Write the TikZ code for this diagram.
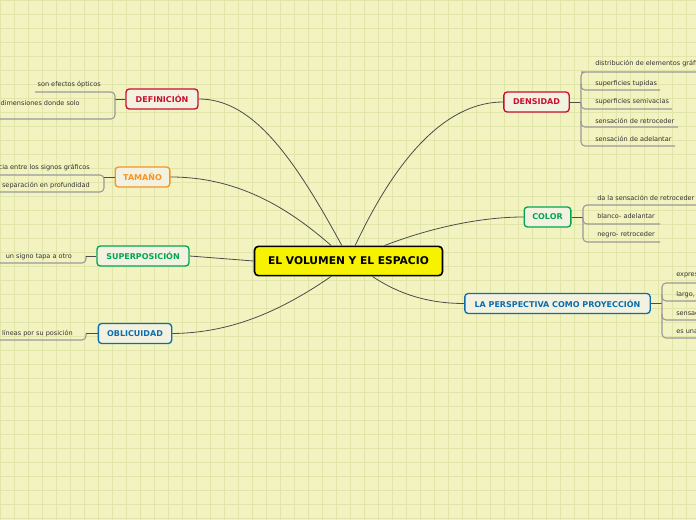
\documentclass[tikz,border=0pt]{standalone}
\usepackage{fontspec}
\setmainfont{DejaVu Sans}
\begin{document}
\begin{tikzpicture}[x=0.75pt,y=-0.75pt,
  topic/.style={draw=#1,line width=1pt,rounded corners=2.5pt,fill=topicfill,text=#1,font=\bfseries\fontsize{6}{7}\selectfont,inner sep=0pt,minimum height=15pt},
  leaf/.style={font=\fontsize{4.9}{6}\selectfont,text=black!80,inner sep=0pt},
  conn/.style={draw=black!70,line width=0.6pt},
  br/.style={draw=black!40,line width=0.8pt,rounded corners=3pt}]
\definecolor{bg}{HTML}{F2F3C0}
\definecolor{gridc}{HTML}{E0E5AA}
\definecolor{topicfill}{HTML}{F3F1E0}
\definecolor{cyell}{HTML}{F7F200}
\definecolor{cred}{HTML}{C8102E}
\definecolor{corange}{HTML}{F7941D}
\definecolor{cgreen}{HTML}{00A651}
\definecolor{cblue}{HTML}{0A6EB0}
\useasboundingbox (0,0) rectangle (696,520);
\clip (0,0) rectangle (696,520);
\fill[bg] (0,0) rectangle (696,520);
\foreach \i in {0,14,...,700}{\draw[gridc,line width=0.3pt] (\i,0) -- (\i,520);}
\foreach \i in {0,14,...,520}{\draw[gridc,line width=0.3pt] (0,\i) -- (696,\i);}
% central
\node[draw=black,line width=1.2pt,fill=cyell,rounded corners=3pt,minimum width=141pt,minimum height=22pt,font=\bfseries\fontsize{8}{9}\selectfont] (c) at (348.5,261) {EL VOLUMEN Y EL ESPACIO};
% topics
\node[topic=cred,minimum width=54pt] (def) at (162,99) {DEFINICIÓN};
\node[topic=corange,minimum width=41pt] (tam) at (142.5,177) {TAMAÑO};
\node[topic=cgreen,minimum width=69pt] (sup) at (143,256) {SUPERPOSICIÓN};
\node[topic=cblue,minimum width=55pt] (obl) at (135,333.5) {OBLICUIDAD};
\node[topic=cred,minimum width=49pt] (den) at (536.5,102) {DENSIDAD};
\node[topic=cgreen,minimum width=35pt] (col) at (547.5,217) {COLOR};
\node[topic=cblue,minimum width=139pt] (per) at (557.5,303.5) {LA PERSPECTIVA COMO PROYECCIÓN};
% connectors
\draw[conn] ([xshift=-5pt]c.north) .. controls (290,150) and (250,99) .. (def.east);
\draw[conn] ([xshift=-13pt]c.north) .. controls (285,205) and (235,177) .. (tam.east);
\draw[conn] (c.west) -- (sup.east);
\draw[conn] ([xshift=-13pt]c.south) .. controls (285,308) and (235,333) .. (obl.east);
\draw[conn] ([xshift=5pt]c.north) .. controls (400,150) and (450,102) .. (den.west);
\draw[conn] ([xshift=27pt]c.north) .. controls (430,228) and (480,217) .. (col.west);
\draw[conn] ([xshift=18pt]c.south) .. controls (400,295) and (430,303.5) .. (per.west);
% DENSIDAD leaves
\coordinate (dj) at (581,102);
\draw[conn] (den.east) -- (dj);
\draw[br] (696,72) -- (585,72) -- (581,72) -- (581,146) -- (675,146);
\foreach \y/\e in {90/660,109/672,127/678}{\draw[br] (581,\y-6) -- (581,\y) -- (\e,\y);}
\node[leaf,anchor=west] (d1) at (595,64) {distribución de elementos gráficos};
\node[leaf,anchor=west] (d2) at (595,83.5) {superficies tupidas};
\node[leaf,anchor=west] (d3) at (595,101.5) {superficies semivacias};
\node[leaf,anchor=west] (d4) at (595,120.5) {sensación de retroceder};
\node[leaf,anchor=west] (d5) at (595,138.5) {sensación de adelantar};
% COLOR leaves
\coordinate (cj) at (583,217);
\draw[conn] (col.east) -- (cj);
\draw[br] (696,205) -- (583,205) -- (583,242) -- (660,242);
\draw[br] (583,218) -- (583,224) -- (660,224);
\node[leaf,anchor=west] (c1) at (597,197.5) {da la sensación de retroceder o adelantar};
\node[leaf,anchor=west] (c2) at (597,216.5) {blanco- adelantar};
\node[leaf,anchor=west] (c3) at (597,234.5) {negro- retroceder};
% PERSPECTIVA leaves
\coordinate (pj) at (662,303.5);
\draw[conn] (per.east) -- (pj);
\draw[br] (696,283) -- (662,283) -- (662,338) -- (696,338);
\draw[br] (662,295) -- (662,301) -- (696,301);
\draw[br] (662,314) -- (662,320) -- (696,320);
\node[leaf,anchor=west] (p1) at (676,275.5) {expresa};
\node[leaf,anchor=west] (p2) at (676,294.5) {largo, ancho};
\node[leaf,anchor=west] (p3) at (676,312.5) {sensación};
\node[leaf,anchor=west] (p4) at (676,331.5) {es una};
% DEFINICION leaves
\coordinate (fj) at (115,99);
\draw[conn] (def.west) -- (fj);
\draw[br] (35,92) -- (115,92) -- (115,119) -- (-5,119);
\node[leaf,anchor=east] (f1) at (101,84.5) {son efectos ópticos};
\node[leaf,anchor=east] (f2) at (80,103.5) {dimensiones donde solo};
% TAMAÑO leaves
\coordinate (tj) at (104,177);
\draw[conn] (tam.west) -- (tj);
\draw[br] (-5,175) -- (104,175) -- (104,192) -- (-5,192);
\node[leaf,anchor=east] (t1) at (90,167.5) {distancia entre los signos gráficos};
\node[leaf,anchor=east] (t2) at (90,185.5) {separación en profundidad};
% SUPERPOSICION leaf
\draw[br] (-5,263) -- (86,263) -- (86,256);
\draw[conn] (86,256) -- (sup.west);
\node[leaf,anchor=east] (s1) at (72,256.5) {un signo tapa a otro};
% OBLICUIDAD leaf
\draw[br] (-5,340) -- (86,340) -- (86,333.5);
\draw[conn] (86,333.5) -- (obl.west);
\node[leaf,anchor=east] (o1) at (73,333.5) {líneas por su posición};
\end{tikzpicture}
\end{document}
